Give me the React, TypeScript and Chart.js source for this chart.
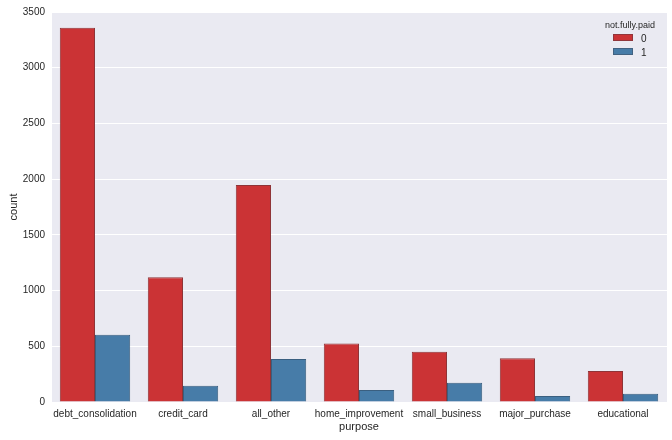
import React, { useEffect, useRef } from "react";
import { Chart, registerables } from "chart.js";

Chart.register(...registerables);

const categories = ["debt_consolidation", "credit_card", "all_other", "home_improvement", "small_business", "major_purchase", "educational"];
const notPaid0 = [3358, 1120, 1948, 524, 451, 392, 278];
const notPaid1 = [603, 146, 387, 107, 172, 53, 73];
const yMax = 3500;
const yStep = 500;
const legendTitle = "not.fully.paid";
const FONT = "'Liberation Sans', Arial, sans-serif";
const INK = "#262626";

const plotBackground = {
  id: "plotBackground",
  beforeDraw(chart: any) {
    const { ctx, chartArea: a } = chart;
    ctx.save();
    ctx.fillStyle = "#EAEAF2";
    ctx.fillRect(a.left + 1, a.top, a.right - a.left - 1, a.bottom - a.top);
    ctx.restore();
  },
};

const seabornLegend = {
  id: "seabornLegend",
  afterDraw(chart: any) {
    const { ctx } = chart;
    ctx.save();
    ctx.fillStyle = INK;
    ctx.textBaseline = "middle";
    ctx.textAlign = "center";
    ctx.font = `9px ${FONT}`;
    ctx.fillText(legendTitle, 630, 26);
    ctx.textAlign = "left";
    ctx.font = `10px ${FONT}`;
    chart.data.datasets.forEach((d: any, i: number) => {
      const y = 34 + i * 14;
      ctx.fillStyle = d.backgroundColor;
      ctx.fillRect(613, y, 20, 7);
      ctx.strokeStyle = "rgba(60,60,70,0.4)";
      ctx.lineWidth = 1;
      ctx.strokeRect(613.5, y + 0.5, 19, 6);
      ctx.fillStyle = INK;
      ctx.fillText(d.label, 641, y + 5);
    });
    ctx.restore();
  },
};

export default function App() {
  const ref = useRef<HTMLCanvasElement>(null);
  useEffect(() => {
    document.body.style.margin = "0";
    const chart = new Chart(ref.current!, {
      type: "bar",
      data: {
        labels: categories,
        datasets: [
          { label: "0", data: notPaid0, backgroundColor: "#CB3335", borderColor: "#8f3437", borderWidth: 1 },
          { label: "1", data: notPaid1, backgroundColor: "#477CA8", borderColor: "#3a5f80", borderWidth: 1 },
        ],
      },
      options: {
        animation: false,
        responsive: false,
        devicePixelRatio: 1,
        layout: { padding: { top: 11, right: 5, left: 0, bottom: 0 } },
        datasets: { bar: { categoryPercentage: 0.8, barPercentage: 1 } },
        scales: {
          x: {
            grid: { display: false, drawTicks: false },
            border: { display: false },
            ticks: { color: INK, font: { family: FONT, size: 10 }, maxRotation: 0, autoSkip: false, padding: 6 },
            title: { display: true, text: "purpose", color: INK, font: { family: FONT, size: 11 }, padding: { top: 2, bottom: 6 } },
            afterFit(s: any) { s.height = 38; },
          },
          y: {
            min: 0,
            max: yMax,
            grid: { color: "#FFFFFF", lineWidth: 1, drawTicks: false },
            border: { display: false },
            ticks: { color: INK, font: { family: FONT, size: 10 }, stepSize: yStep, padding: 6, callback: (v: any) => String(v) },
            title: { display: true, text: "count", color: INK, font: { family: FONT, size: 11 }, padding: { top: 7, bottom: 0 } },
            afterFit(s: any) { s.width = 51; },
          },
        },
        plugins: {
          tooltip: { enabled: false },
          legend: { display: false },
        },
      },
      plugins: [plotBackground, seabornLegend],
    });
    return () => chart.destroy();
  }, []);
  return <canvas ref={ref} width={672} height={440} style={{ display: "block" }} />;
}
